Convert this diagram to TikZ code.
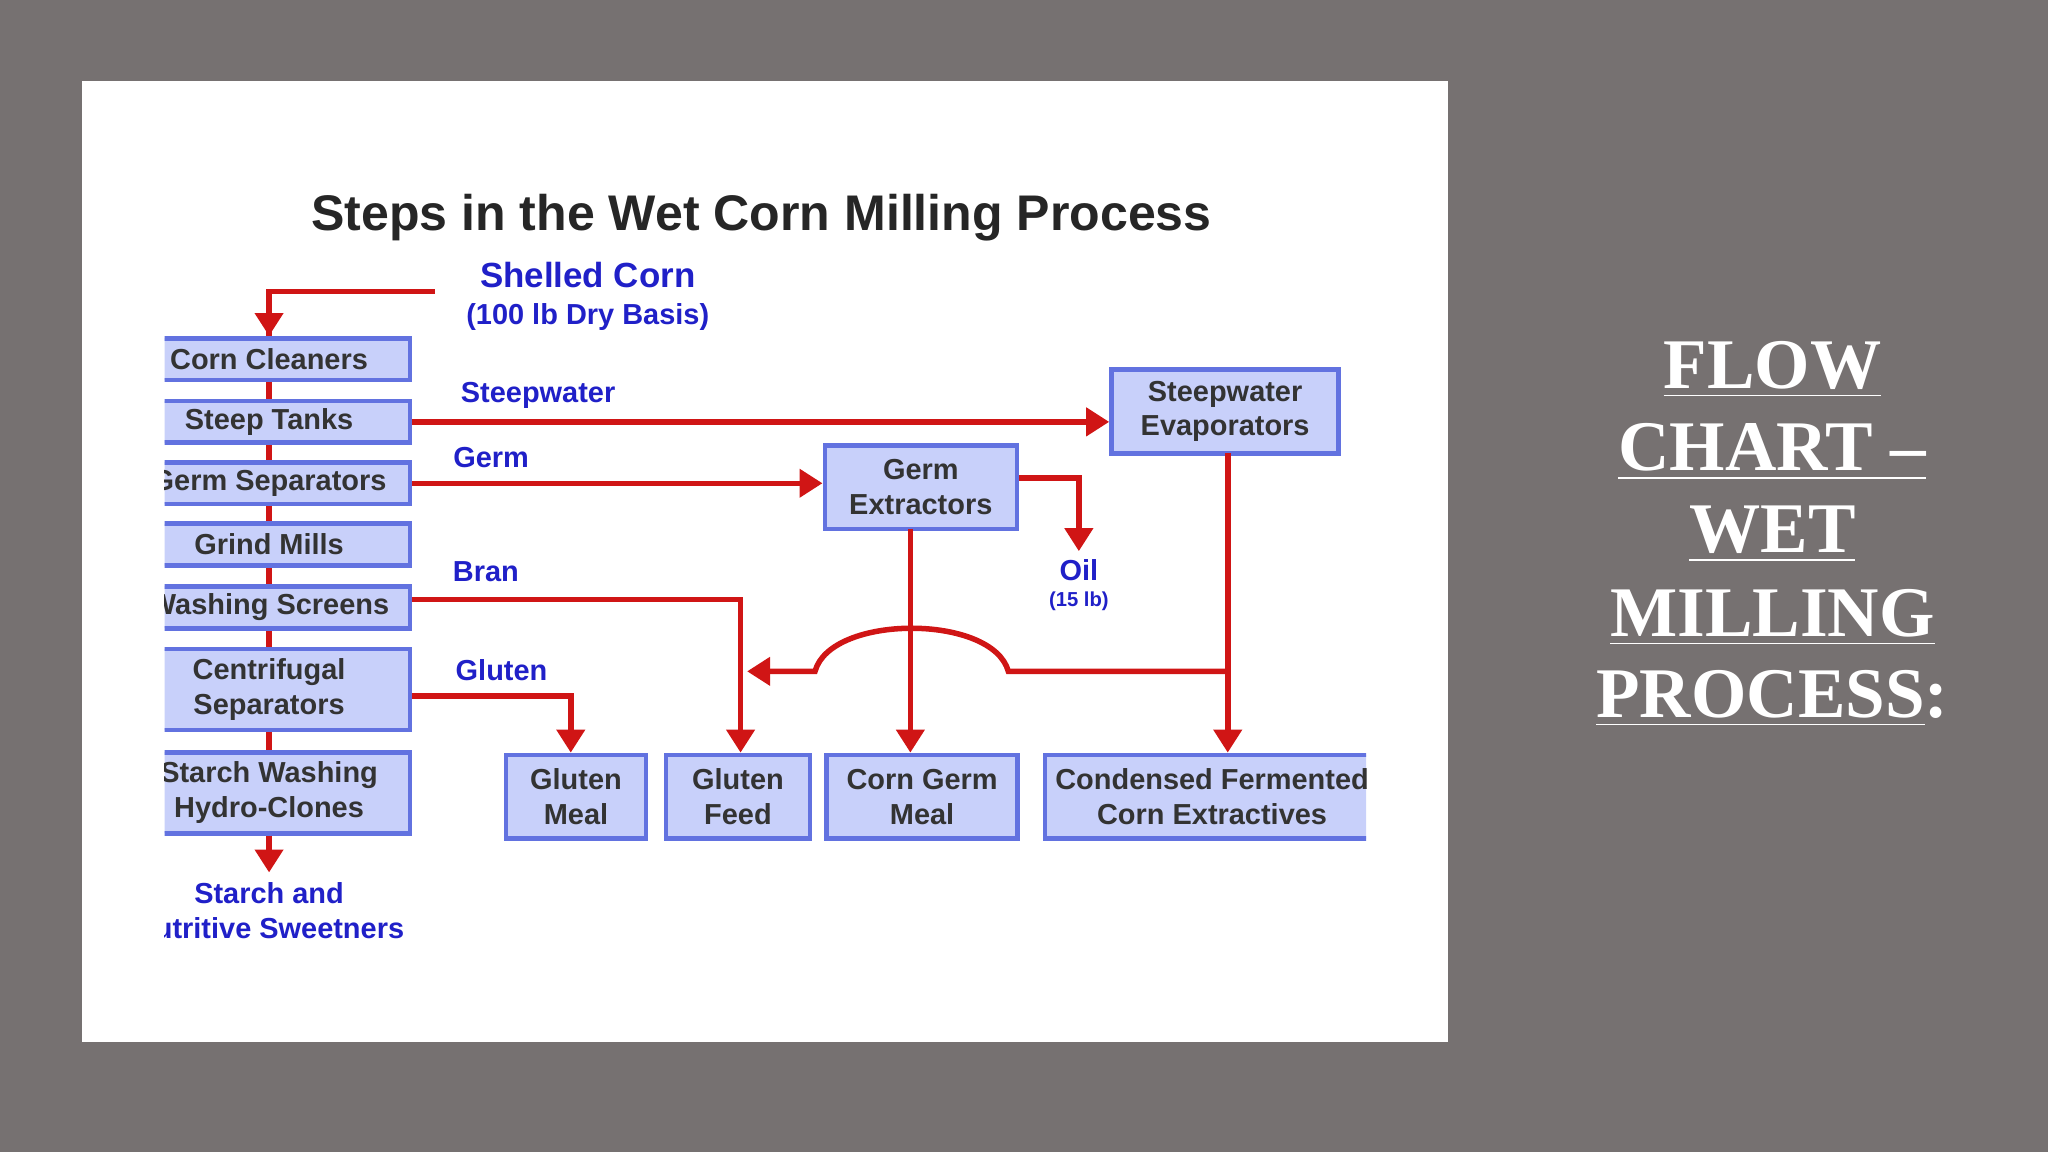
\documentclass[tikz,border=0pt]{standalone}
\usepackage{fontspec}
\setmainfont{Liberation Sans}
\newfontfamily\ttl{Liberation Serif}
\usetikzlibrary{arrows.meta}
\definecolor{bg}{HTML}{767171}
\definecolor{rd}{HTML}{D01515}
\definecolor{bx}{HTML}{C8D0FA}
\definecolor{bd}{HTML}{6272E0}
\definecolor{bl}{HTML}{2020C8}
\begin{document}
\begin{tikzpicture}[x=0.01cm,y=-0.01cm,
 box/.style={draw=bd,line width=1pt,fill=bx,inner sep=0pt,font=\fontsize{6.3}{7.6}\selectfont\bfseries,align=center,text=black!80},
 flow/.style={draw=rd,line width=1.2pt},
 arr/.style={flow,-{Triangle[length=5pt,width=6pt]}},
 lab/.style={font=\fontsize{6.3}{7.6}\selectfont\bfseries,text=bl,align=center},
 hd/.style={font=\ttl\fontsize{15.5}{18}\selectfont\bfseries,text=white}]
\fill[bg] (0,0) rectangle (1568,882);
\useasboundingbox (0,0) rectangle (1568,882);
\fill[white] (63,62) rectangle (1109,798);
\node[font=\fontsize{10.9}{13}\selectfont\bfseries,text=black!85] (title) at (583,167) {Steps in the Wet Corn Milling Process};
\begin{scope}
\clip (126,62) rectangle (1046,798);
\newcommand\lbox[4]{\node[box,minimum width=216*0.01cm,minimum height=#3*0.01cm] (#1) at (206,#2) {#4};}
\draw[flow] (206,223) -- (206,640);
\lbox{cc}{275}{32}{Corn Cleaners}
\lbox{st}{323}{32}{Steep Tanks}
\lbox{gs}{370}{32}{Germ Separators}
\lbox{gm}{417}{32}{Grind Mills}
\lbox{ws}{465}{32}{Washing Screens}
\lbox{cs}{528}{62}{Centrifugal\\Separators}
\lbox{sw}{607}{62}{Starch Washing\\Hydro-Clones}
\coordinate (sc) at (333,223);
\coordinate (sct) at (206,223);
\draw[arr] (sc) -- (sct) -- (cc.north -| sct);
\coordinate (ss) at (206,668);
\draw[arr] (sw.south -| ss) -- (ss);
\node[lab] (sns) at (206,697) {Starch and\\Nutritive Sweetners};
% right boxes
\node[box,minimum width=174*0.01cm,minimum height=64*0.01cm] (se) at (938,315) {Steepwater\\Evaporators};
\node[box,minimum width=147*0.01cm,minimum height=64*0.01cm] (ge) at (705,373) {Germ\\Extractors};
\node[box,minimum width=107*0.01cm,minimum height=64*0.01cm] (glm) at (441,610) {Gluten\\Meal};
\node[box,minimum width=110*0.01cm,minimum height=64*0.01cm] (glf) at (565,610) {Gluten\\Feed};
\node[box,minimum width=146*0.01cm,minimum height=64*0.01cm] (cgm) at (706,610) {Corn Germ\\Meal};
\node[box,minimum width=256*0.01cm,minimum height=64*0.01cm] (cfe) at (928,610) {Condensed Fermented\\Corn Extractives};
% labels
\node[lab,font=\fontsize{7.6}{9}\selectfont\bfseries] (shc) at (450,227) {Shelled Corn\\[-1pt]{\fontsize{6.3}{7.6}\selectfont(100 lb Dry Basis)}};
\node[lab] (lsw) at (412,303) {Steepwater};
\node[lab] (lg) at (376,350) {Germ};
\node[lab] (lb) at (372,438) {Bran};
\node[lab] (lgl) at (384,513) {Gluten};
\node[lab] (oil) at (826,448) {Oil\\[-2pt]{\fontsize{4.4}{5}\selectfont(15 lb)}};
% flows
\draw[arr] (st.east) -- (st.east -| se.west);
\draw[arr] (gs.east) -- (gs.east -| ge.west);
\coordinate (o1) at (826,366);
\draw[arr] (ge.east |- o1) -- (o1) -- (826,422);
\coordinate (b1) at (567,459);
\draw[arr] (ws.east |- b1) -- (b1) -- (b1 |- glf.north);
\coordinate (g1) at (437,533);
\draw[arr] (cs.east |- g1) -- (g1) -- (g1 |- glm.north);
\coordinate (gx) at (697,405);
\draw[arr] (gx) -- (gx |- cgm.north);
\coordinate (ex) at (940,347);
\draw[arr] (ex) -- (ex |- cfe.north);
\coordinate (h1) at (940,514);
\coordinate (h2) at (772,514);
\coordinate (h3) at (624,514);
\coordinate (h4) at (572,514);
\draw[arr] (h1) -- (h2) .. controls (760,470) and (636,470) .. (h3) -- (h4);
\end{scope}
% right heading
\node[hd] (t1) at (1357,283) {\underline{FLOW}};
\node[hd] (t2) at (1357,346) {\underline{CHART –}};
\node[hd] (t3) at (1357,409) {\underline{WET}};
\node[hd] (t4) at (1357,473) {\underline{MILLING}};
\node[hd] (t5) at (1357,535) {\underline{PROCESS}:};
\end{tikzpicture}
\end{document}
